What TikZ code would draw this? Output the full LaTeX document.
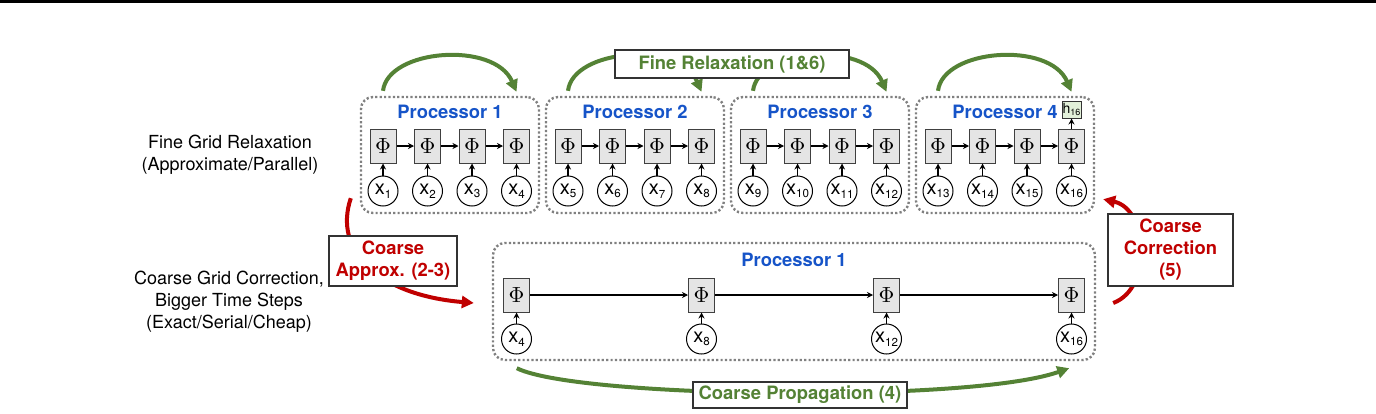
\documentclass[tikz,border=0pt]{standalone}
\usepackage{fontspec}
\setmainfont{TeX Gyre Heros}
\usepackage{xcolor}
\usepackage{tikz}
\usetikzlibrary{positioning}
\usetikzlibrary{arrows.meta}
\definecolor{procblue}{RGB}{22,84,200}
\definecolor{relaxgreen}{RGB}{84,130,53}
\definecolor{corrred}{RGB}{192,0,0}
\definecolor{hfill}{RGB}{226,240,217}
\newcommand{\smallsub}[1]{\raisebox{-0.35ex}{\fontsize{5.8}{6}\selectfont #1}}
\newcommand{\tinysub}[1]{\raisebox{-0.3ex}{\fontsize{4.5}{5}\selectfont #1}}
\tikzset{%
  phibox/.style = {rectangle,draw=black!75,fill=black!10,line width=0.5pt,
        minimum width=13pt,minimum height=17pt,inner sep=0pt,
        font=\fontsize{11}{12}\selectfont},
  xnode/.style = {circle,draw,line width=0.5pt,minimum size=15pt,inner sep=0pt,
        font=\fontsize{10}{11}\selectfont},
  hbox/.style = {rectangle,draw=black!80,fill=hfill,line width=0.4pt,
        minimum width=9.5pt,minimum height=8.5pt,inner sep=0.3pt,
        font=\fontsize{7}{8}\selectfont},
  procbox/.style = {rectangle,draw=black!50,line width=1.2pt,
        dash pattern=on 1.1pt off 1.1pt,rounded corners=6pt,
        minimum width=89pt,minimum height=58pt},
  proclabel/.style = {text=procblue,font=\bfseries\fontsize{9.2}{10}\selectfont},
  tag/.style = {rectangle,draw=black!80,fill=white,line width=0.6pt,align=center,
        inner sep=0pt,font=\bfseries\fontsize{9.2}{11}\selectfont},
  sidetext/.style = {align=center,font=\fontsize{9}{11}\selectfont},
  flow/.style = {-{Stealth[length=3pt,width=3pt]},line width=0.7pt},
  greenarc/.style = {-{Triangle[length=6pt,width=6pt]},relaxgreen,line width=2pt},
  redarc/.style = {-{Triangle[length=6pt,width=6pt]},corrred,line width=2pt}
}
\begin{document}
\begin{tikzpicture}[x=0.5pt,y=-0.5pt]
\useasboundingbox (0,0) rectangle (1376,413);
\fill[black] (0,0) rectangle (1376,3);

% fine grid: one box per processor
\node[procbox] (p1) at (450,155) {};
\node[procbox] (p2) at (635,155) {};
\node[procbox] (p3) at (820,155) {};
\node[procbox] (p4) at (1005,155) {};
\node[proclabel] at ([yshift=-8pt]p1.north) {Processor 1};
\node[proclabel] at ([yshift=-8pt]p2.north) {Processor 2};
\node[proclabel] at ([yshift=-8pt]p3.north) {Processor 3};
\node[proclabel] at ([yshift=-8pt]p4.north) {Processor 4};

\foreach \n in {1,...,16}{
  \pgfmathsetmacro\px{383+185*int((\n-1)/4)+44.5*mod(\n-1,4)}
  \node[phibox] (phi\n) at (\px,146) {$\Phi$};
  \node[xnode] (x\n) [below=6pt of phi\n] {x\smallsub{\n}};
  \draw[flow] (x\n) -- (phi\n);
}
\foreach \a/\b in {1/2,2/3,3/4,5/6,6/7,7/8,9/10,10/11,11/12,13/14,14/15,15/16}
  \draw[flow] (phi\a) -- (phi\b);
\node[hbox] (h16) [above=5pt of phi16] {h\tinysub{16}};
\draw[flow] (phi16) -- (h16);

% fine relaxation arcs
\foreach \g/\a/\b in {1/1/4,2/5/8,3/9/12,4/13/16}
  \draw[greenarc] ([yshift=2.5pt]p\g.north -| phi\a) .. controls +(5,-42) and +(-22,-51) .. ([yshift=2pt]p\g.north -| phi\b);
\node[tag,text=relaxgreen,minimum width=117pt,minimum height=14pt] (finetag) at (732,64) {Fine Relaxation (1\&6)};

% coarse grid
\node[procbox,minimum width=301pt,minimum height=58.5pt] (pc) at (794,301.5) {};
\node[proclabel] at ([yshift=-9pt]pc.north) {Processor 1};
\foreach \n/\px in {4/516.5,8/701.5,12/886.5,16/1071.5}{
  \node[phibox] (cphi\n) at (\px,295) {$\Phi$};
  \node[xnode] (cx\n) [below=5.5pt of cphi\n] {x\smallsub{\n}};
  \draw[flow] (cx\n) -- (cphi\n);
}
\foreach \a/\b in {4/8,8/12,12/16}
  \draw[flow] (cphi\a) -- (cphi\b);

% coarse approximation and correction
\draw[redarc] ([xshift=-4.5pt,yshift=8pt]p1.south west) .. controls +(-18,53) and +(-95,-8) .. ([xshift=-9pt,yshift=-0.75pt]pc.west);
\node[tag,text=corrred,minimum width=64pt,minimum height=25pt] (approxtag) at (393,261) {Coarse\\Approx. (2-3)};
\draw[redarc] ([xshift=8.5pt,yshift=-0.75pt]pc.east) .. controls +(40,-15) and +(45,10) .. ([xshift=4pt,yshift=7.5pt]p4.south east);
\node[tag,text=corrred,minimum width=62.5pt,minimum height=36pt] (corrtag) at (1170.5,250) {Coarse\\Correction\\(5)};

% coarse propagation
\draw[greenarc] ([xshift=12.5pt,yshift=-3.5pt]pc.south west) .. controls +(60,30) and +(-100,35) .. ([xshift=-13.5pt,yshift=-3.5pt]pc.south east);
\node[tag,text=relaxgreen,minimum width=107pt,minimum height=13pt] (proptag) at (800,395) {Coarse Propagation (4)};

% side texts
\node[sidetext] (finetext) at (230,155) {Fine Grid Relaxation\\(Approximate/Parallel)};
\node[sidetext] (coarsetext) at (229,302) {Coarse Grid Correction,\\Bigger Time Steps\\(Exact/Serial/Cheap)};
\end{tikzpicture}
\end{document}
